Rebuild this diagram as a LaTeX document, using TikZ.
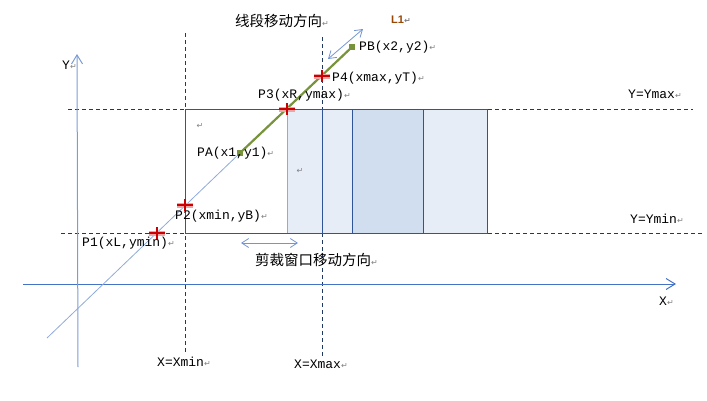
\documentclass[tikz,border=0pt]{standalone}
\usepackage{fontspec}
\setmonofont{Liberation Mono}
\setsansfont{Liberation Sans}
\newfontfamily\cjkfont{Noto Sans CJK SC}
\newfontfamily\symfont{DejaVu Sans}
\usetikzlibrary{arrows.meta}
\definecolor{axisblue}{RGB}{68,114,196}
\definecolor{lineblue}{RGB}{143,170,220}
\definecolor{dashblue}{RGB}{31,56,100}
\definecolor{winblue}{RGB}{47,85,151}
\definecolor{winfill}{RGB}{231,237,247}
\definecolor{winfilldark}{RGB}{208,222,239}
\definecolor{seggreen}{RGB}{119,147,60}
\definecolor{crossred}{RGB}{204,0,0}
\definecolor{labelbrown}{RGB}{152,72,6}
\newcommand{\retmark}{{\symfont\fontsize{8}{8}\selectfont\color{gray}↵}}

\begin{document}
\begin{tikzpicture}[x=1pt,y=-1pt,
    every node/.style={inner sep=0pt},
    lbl/.style={anchor=west,font=\ttfamily\fontsize{13}{13}\selectfont},
    cjk/.style={anchor=west,font=\cjkfont\fontsize{14.5}{14.5}\selectfont},
    guide/.style={draw=dashblue,dash pattern=on 4pt off 3pt,line width=0.8pt},
    axis/.style={draw=axisblue,line width=1pt,-{Straight Barb[length=9pt,width=11pt]}},
    move/.style={draw=axisblue!75,line width=0.8pt,{Straight Barb[length=7pt,width=9pt]}-{Straight Barb[length=7pt,width=9pt]}},
    endpt/.style={fill=seggreen,minimum size=6pt,rectangle},
    redcross/.pic={
        \draw[crossred!35,line width=5pt] (-8,0) -- (8,0);
        \draw[crossred,line width=2.5pt] (-8,0) -- (8,0) (0,-6) -- (0,6);
    }]

    \useasboundingbox (0,0) rectangle (707,400);

    % Points of the segment %
    \coordinate (L0) at (47,338);
    \coordinate (P1) at (157,233);
    \coordinate (P2) at (185,205);
    \coordinate (PA) at (240,153);
    \coordinate (P3) at (287,109);
    \coordinate (P4) at (322,76);
    \coordinate (PB) at (352,47);

    % Window and guide lines %
    \fill[winfill] (287,109) rectangle (487,233);
    \fill[winfilldark] (352,109) rectangle (423,233);

    \begin{scope}[every path/.style={guide}]
        \coordinate (ymaxL) at (68,109);  \coordinate (ymaxR) at (693,109);
        \coordinate (yminL) at (61,233);  \coordinate (yminR) at (702,233);
        \coordinate (xminT) at (185,33);  \coordinate (xminB) at (185,353);
        \coordinate (xmaxT) at (322,37);  \coordinate (xmaxB) at (322,357);
        \path (ymaxL) -- (ymaxR);
        \path (yminL) -- (yminR);
        \path (xminT) -- (xminB);
        \path (xmaxT) -- (xmaxB);
    \end{scope}

    \draw[winblue,line width=0.8pt] (185,109) rectangle (487,233);
    \draw[winblue,line width=0.8pt] (322,109) -- (322,233) (352,109) -- (352,233) (423,109) -- (423,233);
    \draw[lineblue,line width=0.8pt] (287,109) -- (287,233);

    % Axes %
    \coordinate (Xstart) at (23,284);  \coordinate (Xend) at (676,284);
    \coordinate (Ystart) at (78,367);  \coordinate (Yend) at (77,54);
    \path[axis] (Xstart) -- (Xend);
    \path[axis,draw=axisblue!70] (Ystart) -- (Yend);

    % Segment %
    \draw[lineblue,line width=0.8pt] (L0) -- (PA);
    \draw[seggreen,line width=2.2pt] (PA) -- (PB);
    \node[endpt] (mA) at (PA) {};
    \node[endpt] (mB) at (PB) {};
    \foreach \p in {P1,P2,P3,P4} \pic at (\p) {redcross};

    % Move directions %
    \coordinate (segA) at (328,59);  \coordinate (segB) at (363,29);
    \coordinate (winA) at (241,243); \coordinate (winB) at (298,243);
    \path[move] (segA) -- (segB);
    \path[move] (winA) -- (winB);

    % Labels %
    \node[cjk] (segtext) at (235,21) {线段移动方向\retmark};
    \node[anchor=west,font=\sffamily\bfseries\fontsize{11}{11}\selectfont] (l1) at (391,20) {\textcolor{labelbrown}{L1}\retmark};
    \node[lbl] (lPB) at (359,47) {PB(x2,y2)\retmark};
    \node[lbl] (lP4) at (332,78) {P4(xmax,yT)\retmark};
    \node[lbl] (lP3) at (258,95) {P3(xR,ymax)\retmark};
    \node[lbl] (lPA) at (197,153) {PA(x1,y1)\retmark};
    \node[lbl] (lP2) at (175,216) {P2(xmin,yB)\retmark};
    \node[lbl] (lP1) at (82,243) {P1(xL,ymin)\retmark};
    \node[cjk] (wintext) at (255,260) {剪裁窗口移动方向\retmark};
    \node[lbl] (ly) at (62,65) {Y\retmark};
    \node[lbl] (lx) at (659,301) {X\retmark};
    \node[lbl] (lymax) at (628,94) {Y=Ymax\retmark};
    \node[lbl] (lymin) at (630,219) {Y=Ymin\retmark};
    \node[lbl] (lxmin) at (157,362) {X=Xmin\retmark};
    \node[lbl] (lxmax) at (294,364) {X=Xmax\retmark};
    \node (r1) at (200,126) {\retmark};
    \node (r2) at (300,171) {\retmark};

\end{tikzpicture}
\end{document}
